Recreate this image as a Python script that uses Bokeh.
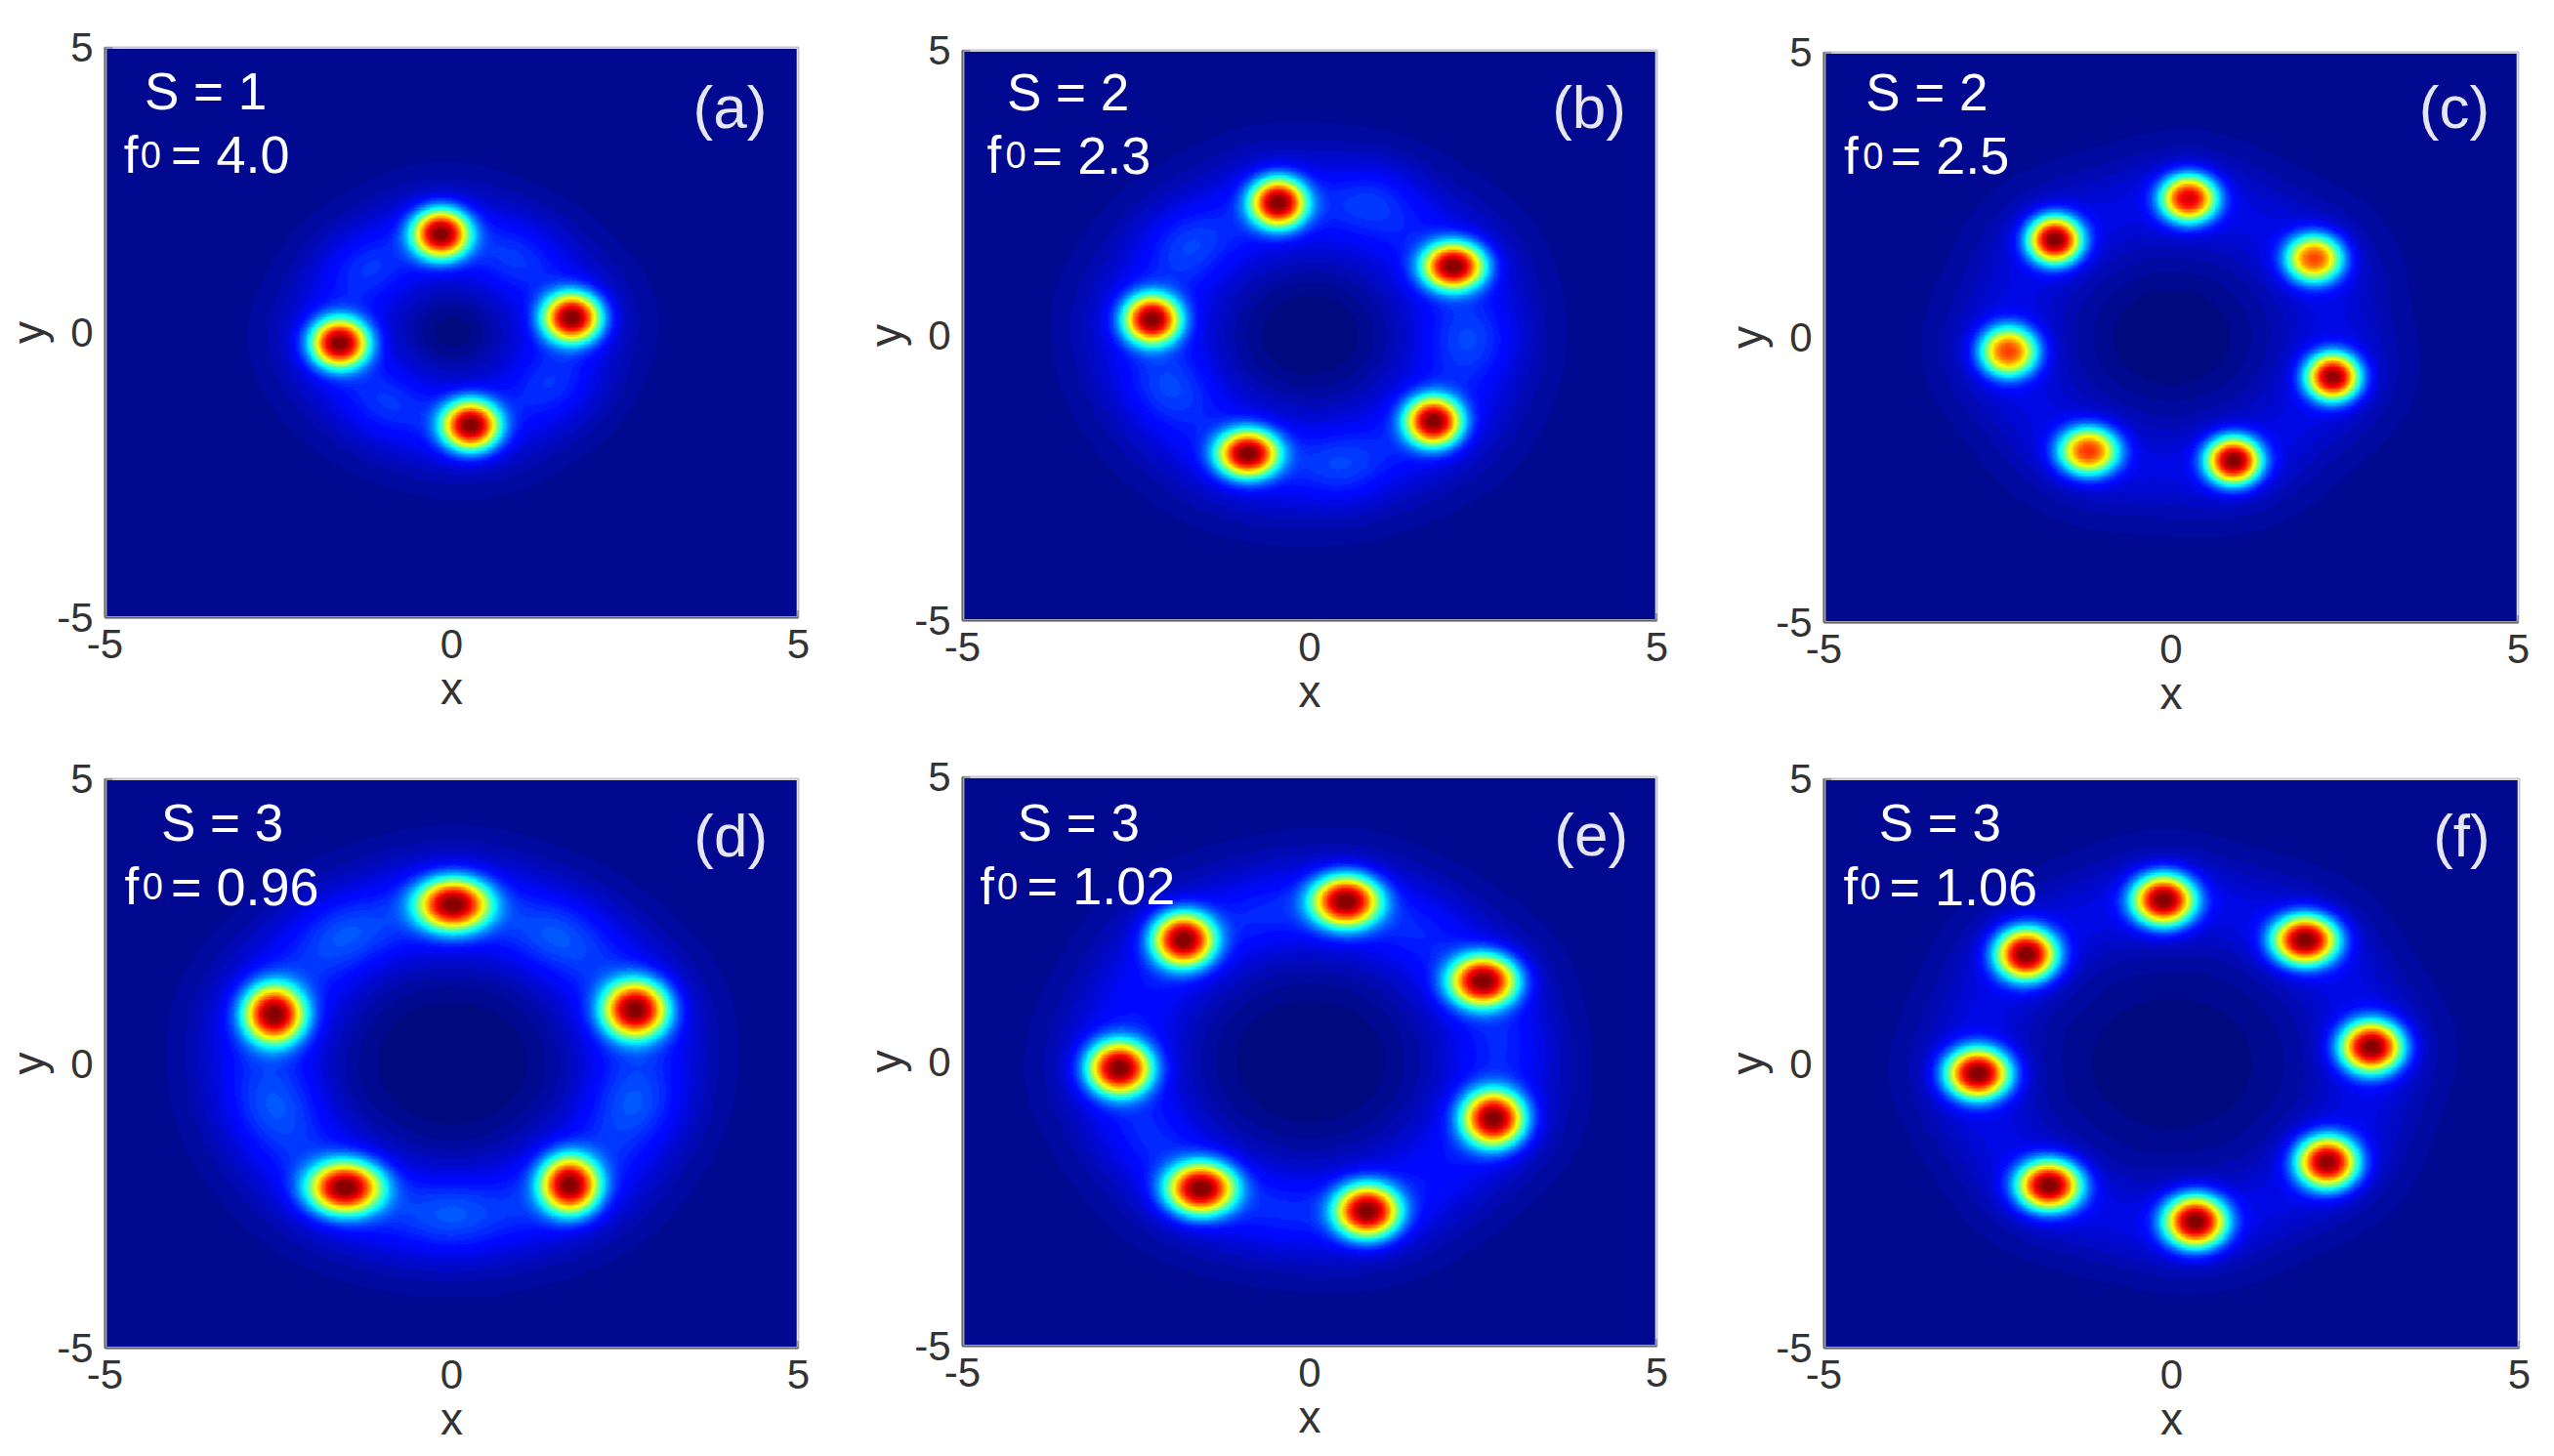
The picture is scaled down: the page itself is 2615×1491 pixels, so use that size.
import numpy as np
from bokeh.embed import file_html
from bokeh.layouts import column, row
from bokeh.models import FixedTicker, Label, LinearColorMapper
from bokeh.plotting import figure
from bokeh.resources import INLINE

# ---------- values ----------
TICKS = [-5, 0, 5]
PANEL_TAGS = ["(a)", "(b)", "(c)", "(d)", "(e)", "(f)"]
S_TEXT = ["S = 1", "S = 2", "S = 2", "S = 3", "S = 3", "S = 3"]
F_VALUES = ["= 4.0", "= 2.3", "= 2.5", "= 0.96", "= 1.02", "= 1.06"]

# soliton peaks: centre x, centre y, height, half-widths
a_x = [-0.16, 1.74, 0.27, -1.63]
a_y = [1.74, 0.26, -1.64, -0.19]
a_h = [1.0, 1.0, 1.0, 1.0]
a_rx = [0.41, 0.41, 0.41, 0.41]
a_ry = [0.43, 0.43, 0.43, 0.43]

b_x = [-0.46, 2.08, 1.79, -0.90, -2.29]
b_y = [2.34, 1.22, -1.52, -2.09, 0.28]
b_h = [1.0, 1.0, 1.0, 1.0, 1.0]
b_rx = [0.40, 0.44, 0.40, 0.44, 0.40]
b_ry = [0.43, 0.41, 0.43, 0.41, 0.43]

c_x = [0.25, 2.07, 2.34, 0.90, -1.20, -2.36, -1.69]
c_y = [2.45, 1.39, -0.70, -2.18, -2.01, -0.25, 1.72]
c_h = [0.90, 0.78, 0.98, 1.0, 0.80, 0.79, 1.0]
c_rx = [0.40, 0.40, 0.38, 0.39, 0.42, 0.40, 0.38]
c_ry = [0.41, 0.41, 0.41, 0.41, 0.41, 0.43, 0.41]

d_x = [0.02, 2.66, 1.71, -1.55, -2.58]
d_y = [2.81, 0.95, -2.15, -2.20, 0.87]
d_h = [1.0, 1.0, 1.0, 1.0, 1.0]
d_rx = [0.52, 0.46, 0.42, 0.52, 0.43]
d_ry = [0.45, 0.50, 0.50, 0.45, 0.51]

e_x = [0.52, 2.51, 2.66, 0.83, -1.58, -2.76, -1.83]
e_y = [2.83, 1.42, -1.01, -2.65, -2.25, -0.12, 2.15]
e_h = [1.0, 1.0, 1.0, 1.0, 1.0, 1.0, 1.0]
e_rx = [0.49, 0.48, 0.44, 0.46, 0.49, 0.45, 0.44]
e_ry = [0.45, 0.45, 0.49, 0.46, 0.45, 0.47, 0.47]

f_x = [-0.12, 1.93, 2.89, 2.25, 0.34, -1.78, -2.81, -2.11]
f_y = [2.89, 2.18, 0.29, -1.75, -2.80, -2.16, -0.18, 1.93]
f_h = [1.0, 1.0, 1.0, 0.98, 1.0, 1.0, 1.0, 1.0]
f_rx = [0.44, 0.46, 0.44, 0.43, 0.44, 0.45, 0.45, 0.43]
f_ry = [0.44, 0.43, 0.45, 0.45, 0.45, 0.43, 0.44, 0.45]

# faint ring between the peaks: radius, width, height, central hole radius
ring_r = [1.60, 2.25, 2.35, 2.70, 2.68, 2.85]
ring_w = [0.58, 0.66, 0.58, 0.62, 0.62, 0.56]
ring_h = [0.095, 0.105, 0.060, 0.135, 0.105, 0.065]
hole_r = [0.50, 0.95, 0.95, 1.30, 1.25, 1.20]

# brighter patches along the ring, height per panel
patch_a_x = [-1.25, 1.50, 0.9, -0.9]
patch_a_y = [1.16, -0.97, 1.3, -1.2]
patch_b_x = [-1.77, 0.94, 2.33, -2.00, 0.47]
patch_b_y = [1.61, 2.43, -0.10, -0.93, -2.32]
patch_c_x = []
patch_c_y = []
patch_d_x = [-1.55, 1.53, 2.66, -2.52, 0.0]
patch_d_y = [2.28, 2.24, -0.71, -0.75, -2.64]
patch_e_x = [-0.6, 1.6, 2.9, -2.3, -0.4]
patch_e_y = [2.7, 2.5, 0.3, -1.3, -2.6]
patch_f_x = []
patch_f_y = []
patch_h = [0.05, 0.06, 0.0, 0.05, 0.025, 0.0]

# ---------- layout of the panels (page pixels) ----------
FRAME_W = [710, 711, 711, 710, 711, 712]
FRAME_H = [584, 584, 584, 583, 583, 583]
BORDER_L = [100, 133, 140, 98, 134, 137]
BORDER_R = [32, 32, 25, 34, 31, 24]
BORDER_T = [48, 51, 53, 45, 43, 45]
BORDER_B = [120, 117, 115, 96, 96, 96]

# text anchors in axis units: S, f, small 0, "= …", tag x, then baselines
POS_S = [-4.43, -4.36, -4.40, -4.19, -4.21, -4.21]
POS_F = [-4.73, -4.65, -4.71, -4.72, -4.75, -4.72]
POS_0 = [-4.49, -4.38, -4.44, -4.46, -4.50, -4.48]
POS_EQ = [-4.05, -4.00, -4.04, -4.05, -4.07, -4.06]
POS_TAG = [3.48, 3.49, 3.57, 3.49, 3.52, 3.76]
BASE_S = [3.91, 3.95, 3.98, 3.90, 3.88, 3.90]
BASE_F = [2.80, 2.84, 2.87, 2.79, 2.76, 2.79]
BASE_TAG = [3.64, 3.68, 3.72, 3.69, 3.66, 3.69]
TEXT_LIFT = 0.32

FONT = "Liberation Sans"
INK = "#333333"
AXIS_INK = "#666666"


def jet_palette(n=64):
    out = []
    for i in range(n):
        v = (i + 0.5) / n
        if v < 0.125:
            r, g, b = 0.0, 0.035, 0.46 + 0.54 * v / 0.125
        else:
            b = np.clip(1.5 - abs(4 * v - 1.0), 0, 1)
            g = max(np.clip(1.5 - abs(4 * v - 2.0), 0, 1), 0.035)
            r = np.clip(1.5 - abs(4 * v - 3.0), 0, 1)
            if v > 0.875:
                g = 0.0
        out.append("#%02x%02x%02x" % tuple(int(round(255 * c)) for c in (r, g, b)))
    return out


MAPPER = LinearColorMapper(palette=jet_palette(), low=0, high=1)
GRID = np.linspace(-5, 5, 420)
GX, GY = np.meshgrid(GRID, GRID)
RR = np.hypot(GX, GY)


def density(i, xs, ys, hs, rxs, rys, px, py):
    field = 0.022 * (1 - 0.85 * np.exp(-(RR / hole_r[i]) ** 4))
    field = field + ring_h[i] * np.exp(-((RR - ring_r[i]) ** 2) / (2 * ring_w[i] ** 2))
    for x0, y0 in zip(px, py):
        field = field + patch_h[i] * np.exp(-((GX - x0) ** 2 + (GY - y0) ** 2) / (2 * 0.45 ** 2))
    # wide skirt under each peak
    for x0, y0 in zip(xs, ys):
        field = field + 0.035 * np.exp(-((GX - x0) ** 2 + (GY - y0) ** 2) / (2 * 0.62 ** 2))
    for x0, y0, h, rx, ry in zip(xs, ys, hs, rxs, rys):
        q = np.sqrt(((GX - x0) / rx) ** 2 + ((GY - y0) / ry) ** 2)
        peak = h * np.exp(-(q ** 2.4))
        field = 1 - (1 - field) * (1 - peak)
    return np.clip(field, 0, 1).astype(np.float32)


PANELS = [
    (a_x, a_y, a_h, a_rx, a_ry, patch_a_x, patch_a_y),
    (b_x, b_y, b_h, b_rx, b_ry, patch_b_x, patch_b_y),
    (c_x, c_y, c_h, c_rx, c_ry, patch_c_x, patch_c_y),
    (d_x, d_y, d_h, d_rx, d_ry, patch_d_x, patch_d_y),
    (e_x, e_y, e_h, e_rx, e_ry, patch_e_x, patch_e_y),
    (f_x, f_y, f_h, f_rx, f_ry, patch_f_x, patch_f_y),
]


def make_panel(i):
    p = figure(
        frame_width=FRAME_W[i], frame_height=FRAME_H[i],
        x_range=(-5, 5), y_range=(-5, 5),
        output_backend="svg", toolbar_location=None,
        min_border_left=BORDER_L[i], min_border_right=BORDER_R[i],
        min_border_top=BORDER_T[i], min_border_bottom=BORDER_B[i],
        x_axis_label="x", y_axis_label="y",
        background_fill_color=None, border_fill_color=None,
    )
    p.grid.visible = False
    p.outline_line_color = "#c4c4d0"
    p.outline_line_width = 2
    for ax, label_gap in ((p.xaxis[0], 2), (p.yaxis[0], 0)):
        ax.ticker = FixedTicker(ticks=TICKS)
        ax.major_label_overrides = {t: str(t) for t in TICKS}
        ax.major_label_text_font = FONT
        ax.major_label_text_font_size = "42px"
        ax.major_label_text_color = INK
        ax.major_label_standoff = 12
        ax.axis_label_text_font = FONT
        ax.axis_label_text_font_size = "46px"
        ax.axis_label_text_font_style = "normal"
        ax.axis_label_text_color = INK
        ax.axis_label_standoff = label_gap
        ax.axis_line_color = AXIS_INK
        ax.axis_line_width = 2
        ax.major_tick_line_color = None
        ax.major_tick_in = 0
        ax.major_tick_out = 0
        ax.minor_tick_line_color = None
    p.image(image=[density(i, *PANELS[i])], x=-4.975, y=-4.975, dw=9.95, dh=9.95, color_mapper=MAPPER)
    # the two tick stubs that stay visible beyond the image edge
    p.segment(x0=[TICKS[0], TICKS[-1]], y0=[TICKS[-1], TICKS[0]],
              x1=[TICKS[0] + 0.11, TICKS[-1]], y1=[TICKS[-1], TICKS[0] + 0.13],
              line_color=AXIS_INK, line_width=2)

    def text(x, y, s, size, color="white"):
        p.add_layout(Label(x=x, y=y + TEXT_LIFT, text=s, text_font=FONT, text_font_size=size,
                           text_color=color, text_align="left", text_baseline="alphabetic"))

    text(POS_S[i], BASE_S[i], S_TEXT[i], "53px")
    text(POS_F[i], BASE_F[i], "f", "53px")
    text(POS_0[i], BASE_F[i], "0", "38px")
    text(POS_EQ[i], BASE_F[i], F_VALUES[i], "54px")
    text(POS_TAG[i], BASE_TAG[i], PANEL_TAGS[i], "62px", "#e6e6f2")
    return p


figs = [make_panel(i) for i in range(6)]
page = row(
    column(figs[0], figs[3], spacing=0),
    column(figs[1], figs[4], spacing=0),
    column(figs[2], figs[5], spacing=0),
    spacing=0,
)
open("out.html", "w").write(file_html(page, INLINE))
